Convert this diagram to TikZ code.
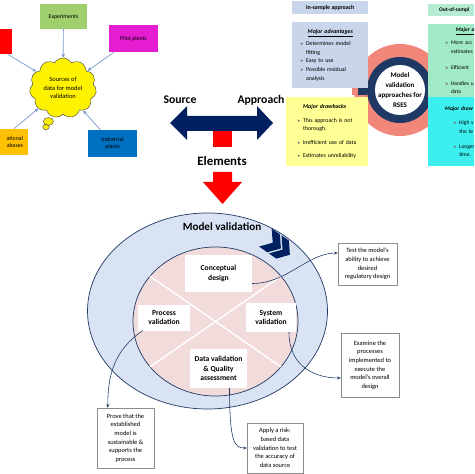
\documentclass[tikz,border=0pt]{standalone}
\usepackage{fontspec}
\setmainfont{Carlito}
\newfontfamily\dejavu{DejaVu Sans}
\usepackage{xcolor}
\usepackage{tikz}
\usetikzlibrary{shapes}
\usetikzlibrary{positioning}
\usetikzlibrary{calc}
\usetikzlibrary{arrows.meta}
\usetikzlibrary{shadows}
\definecolor{navy}{RGB}{31,56,100}
\definecolor{darknavy}{RGB}{0,32,96}
\definecolor{ringblue}{RGB}{218,227,243}
\definecolor{ringpink}{RGB}{242,220,219}
\definecolor{expgreen}{RGB}{160,208,110}
\definecolor{pilotpink}{RGB}{228,30,208}
\definecolor{indblue}{RGB}{0,112,192}
\definecolor{orng}{RGB}{255,192,0}
\definecolor{arrowblue}{RGB}{120,150,205}
\definecolor{inblue}{RGB}{200,213,234}
\definecolor{inyellow}{RGB}{255,255,150}
\definecolor{outmint}{RGB}{180,235,210}
\definecolor{outgreen}{RGB}{160,234,200}
\definecolor{outcyan}{RGB}{60,238,238}
\definecolor{salmon}{RGB}{240,135,120}
\newdimen\ux
\ux=0.3mm
\newcommand{\bul}{{\dejavu\fontsize{3.5}{4}\selectfont\color{black!60}➤}\hspace{2pt}}

\begin{document}
\begin{tikzpicture}[x=0.3mm,y=-0.3mm,
  font=\fontsize{5}{6}\selectfont]
  \tikzstyle{srcbox}=[align=center,inner sep=1pt]
  \tikzstyle{srcarrow}=[draw=arrowblue,line width=0.6pt,-{Stealth[length=3.5pt,width=3pt]}]
  \tikzstyle{biglabel}=[font=\bfseries\fontsize{10}{12}\selectfont,inner sep=0pt]
  \tikzstyle{part}=[fill=white,align=center,inner sep=1pt,font=\bfseries\fontsize{6.5}{8}\selectfont]
  \tikzstyle{note}=[draw=black!45,fill=white,align=center,inner sep=1pt,font=\fontsize{5.5}{7.4}\selectfont,
    drop shadow={shadow xshift=1.2pt,shadow yshift=-1.2pt,fill=black!35}]
  \tikzstyle{link}=[draw=navy,line width=0.5pt,-{Stealth[length=3pt,width=2.5pt]}]
  \tikzstyle{panel}=[anchor=north west,inner ysep=0pt,align=left,font=\fontsize{5}{7.4}\selectfont]
  \useasboundingbox (0,0) rectangle (474,474);
  \clip (0,0) rectangle (474,474);

  % sources of data
  \node[srcbox,fill=red,minimum width=50\ux,minimum height=25\ux] (hist) at (-13,41.5) {};
  \node[srcbox,fill=expgreen,minimum width=47\ux,minimum height=25\ux] (exp) at (63.5,16.5) {Experiments};
  \node[srcbox,fill=pilotpink,minimum width=49\ux,minimum height=27\ux] (pilot) at (133.5,38.5) {Pilot plants};
  \node[srcbox,fill=orng,minimum width=60\ux,minimum height=26\ux,text width=50\ux,align=right,inner xsep=5\ux] (intl) at (-2,142) {ational\\abases};
  \node[srcbox,fill=indblue,minimum width=49\ux,minimum height=27\ux] (ind) at (112.5,143.5) {Industrial\\plants};
  \node[cloud callout,draw=black!70,fill=yellow,cloud puffs=11,cloud puff arc=120,aspect=1.1,
    minimum width=67\ux,minimum height=60\ux,inner sep=0pt,align=center,
    callout absolute pointer={(46,127)},font=\fontsize{5.5}{7}\selectfont] (cloud) at (63,88)
    {Sources of\\data for model\\validation};
  \draw[srcarrow] (hist) -- (cloud);
  \draw[srcarrow] (exp) -- (cloud);
  \draw[srcarrow] (pilot) -- (cloud);
  \draw[srcarrow] (intl) -- (cloud);
  \draw[srcarrow] (ind) -- (cloud);

  % source <-> approach, elements
  \fill[darknavy] (170,123) -- (187,106) -- (187,116) -- (257,116) -- (257,106) -- (273,123)
    -- (257,140) -- (257,131) -- (187,131) -- (187,140) -- cycle;
  \fill[red] (213,131) rectangle (232,147);
  \node[biglabel] (source) at (180,100) {Source};
  \node[biglabel] (approach) at (261,100) {Approach};
  \node[biglabel,font=\bfseries\fontsize{11}{13}\selectfont] (elements) at (222,161) {Elements};
  \fill[red] (213,172) -- (232,172) -- (232,182) -- (242,182) -- (222.5,204) -- (203,182)
    -- (213,182) -- cycle;

  % model validation rings
  \filldraw[fill=ringblue,draw=navy,line width=0.6pt] (207.5,311) circle[x radius=120,y radius=98];
  \begin{scope}
    \clip (207.5,311) circle[x radius=120,y radius=98];
    \begin{scope}[shift={(276,245)},rotate=-35]
      \fill[darknavy] (-13,-11) -- (-3,-11) -- (6,0) -- (-3,11) -- (-13,11) -- (-4,0) -- cycle;
      \fill[darknavy] (-1,-11) -- (8,-11) -- (17,0) -- (8,11) -- (-1,11) -- (8,0) -- cycle;
    \end{scope}
  \end{scope}
  \node[font=\bfseries\fontsize{9.5}{11}\selectfont] (mvtitle) at (222,227) {Model validation};
  \filldraw[fill=ringpink,draw=navy,line width=0.6pt] (215.5,321.5) circle[x radius=82.5,y radius=74.5];
  \begin{scope}
    \clip (215.5,321.5) circle[x radius=82.5,y radius=74.5];
    \draw[white,line width=1.2pt] (115,252) -- (316,391) (316,252) -- (115,391);
  \end{scope}
  \node[part,minimum width=67\ux,minimum height=37\ux] (conc) at (218.5,273.5) {Conceptual\\design};
  \node[part,minimum width=52\ux,minimum height=26\ux] (proc) at (164,317.5) {Process\\validation};
  \node[part,minimum width=50\ux,minimum height=29\ux] (sys) at (271,317.5) {System\\validation};
  \node[part,minimum width=57\ux,minimum height=39\ux] (data) at (218.5,368.5) {Data validation\\\& Quality\\assessment};

  % notes
  \node[note,minimum width=59\ux,minimum height=42\ux] (test) at (367.5,264)
    {Test the model's\\ability to achieve\\desired\\regulatory design};
  \node[note,minimum width=58\ux,minimum height=64\ux] (exam) at (370,365)
    {Examine the\\processes\\implemented to\\execute the\\model's overall\\design};
  \node[note,minimum width=57\ux,minimum height=60\ux] (prove) at (125.5,438)
    {Prove that the\\established\\model is\\sustainable \&\\supports the\\process};
  \node[note,minimum width=56\ux,minimum height=50\ux] (apply) at (275,448)
    {Apply a risk-\\based data\\validation to test\\the accuracy of\\data source};
  \draw[link] ($(conc.east)+(0,10)$) .. controls +(35,0) and +(-30,0) .. ($(test.west)+(0,-11)$);
  \draw[link] ($(sys.south)+(18,0)$) .. controls +(0,35) and +(-25,0) .. ($(exam.west)+(0,13)$);
  \draw[link] ($(proc.south west)+(5,0)$) .. controls +(-30,20) and +(0,-30) .. ($(prove.north west)+(11,0)$);
  \draw[link] ($(data.south)+(11,0)$) .. controls +(0,55) and +(-12,0) .. (apply.west);

  % approaches for RSES
  \fill[salmon] (400,90) circle[radius=46];
  \fill[navy] (400,90) circle[radius=33];
  \fill[white] (400,90) circle[radius=25];
  \node[align=center,font=\bfseries\fontsize{6}{8.5}\selectfont] (rses) at (400,90)
    {Model\\validation\\approaches for\\RSES};
  \fill[salmon] (352,88) rectangle (358,95);
  \fill[navy] (358,88) rectangle (367,95);
  \fill[navy!60] (440,96) rectangle (447,98);
  \node[fill=inblue,minimum width=76\ux,minimum height=13\ux,anchor=north west,inner sep=0pt,
    font=\bfseries\fontsize{5}{6}\selectfont] (inhead) at (292,1) {In-sample approach};
  \node[panel,fill=inblue,minimum width=76\ux,minimum height=66\ux,inner xsep=8\ux,text width=60\ux] (inadv) at (292,22)
    {\makebox[\linewidth]{\underline{\textbf{\textit{Major advantages}}}}\\[3pt]
     \bul Determines model\\
     \hspace*{5pt}fitting\\
     \bul Easy to use\\
     \bul Possible residual\\
     \hspace*{5pt}analysis};
  \node[panel,fill=inyellow,minimum width=82\ux,minimum height=69\ux,inner xsep=11\ux,text width=60\ux] (indis) at (286,97)
    {\hspace*{5pt}\textbf{\textit{Major drawbacks}}\\[4pt]
     \bul This approach is not\\
     \hspace*{5pt}thorough.\\[4pt]
     \bul Inefficient use of data\\[4pt]
     \bul Estimates unreliability};
  \node[fill=outmint,minimum width=60\ux,minimum height=12\ux,anchor=north west,inner xsep=6\ux,inner ysep=0pt,
    text width=38\ux,font=\bfseries\fontsize{4.7}{6}\selectfont] (outhead) at (428,4) {Out-of-sampl};
  \node[panel,fill=outgreen,minimum width=70\ux,minimum height=73\ux,inner xsep=5\ux,text width=36\ux,
    font=\fontsize{4.7}{7.4}\selectfont] (outadv) at (428,24)
    {\hspace*{9pt}\underline{\textbf{\textit{Major a}}}\\[4pt]
     \bul More acc\\
     \hspace*{5pt}estimates\\[6pt]
     \bul Efficient\\[6pt]
     \bul Handles u\\
     \hspace*{5pt}data};
  \node[panel,fill=outcyan,minimum width=70\ux,minimum height=69\ux,inner xsep=6\ux,text width=36\ux,
    font=\fontsize{4.7}{7.4}\selectfont] (outdis) at (428,97)
    {\textbf{\textit{Major draw}}\\[5pt]
     \hspace*{7pt}\bul High v\\
     \hspace*{12pt}the te\\[5pt]
     \hspace*{7pt}\bul Longer\\
     \hspace*{12pt}time.};
\end{tikzpicture}
\end{document}
